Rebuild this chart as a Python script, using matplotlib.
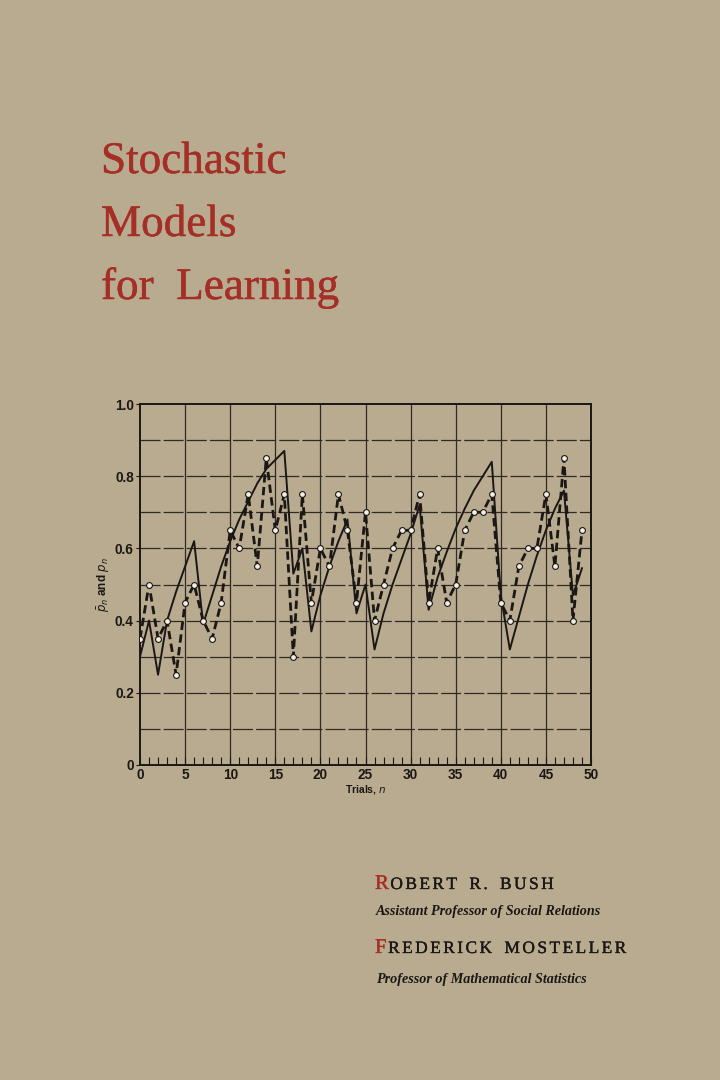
import numpy as np
import matplotlib
matplotlib.use("Agg")
import matplotlib.pyplot as plt
import matplotlib.patheffects as pe
from matplotlib.ticker import FixedLocator

# trial numbers and the two curves
trials = np.arange(50)
p_bar = np.array([0.35, 0.50, 0.35, 0.40, 0.25, 0.45, 0.50, 0.40, 0.35, 0.45,
                  0.65, 0.60, 0.75, 0.55, 0.85, 0.65, 0.75, 0.30, 0.75, 0.45,
                  0.60, 0.55, 0.75, 0.65, 0.45, 0.70, 0.40, 0.50, 0.60, 0.65,
                  0.65, 0.75, 0.45, 0.60, 0.45, 0.50, 0.65, 0.70, 0.70, 0.75,
                  0.45, 0.40, 0.55, 0.60, 0.60, 0.75, 0.55, 0.85, 0.40, 0.65])
p_model = np.array([0.30, 0.40, 0.25, 0.40, 0.48, 0.55, 0.62, 0.39, 0.47, 0.55,
                    0.62, 0.68, 0.73, 0.78, 0.82, 0.845, 0.87, 0.53, 0.60, 0.37,
                    0.47, 0.55, 0.62, 0.68, 0.42, 0.50, 0.32, 0.42, 0.50, 0.57,
                    0.64, 0.72, 0.43, 0.52, 0.59, 0.655, 0.71, 0.76, 0.80, 0.84,
                    0.47, 0.32, 0.41, 0.50, 0.58, 0.65, 0.71, 0.76, 0.47, 0.545])

y_ticks = [0, 0.2, 0.4, 0.6, 0.8, 1.0]
y_tick_labels = ['0', '0.2', '0.4', '0.6', '0.8', '1.0']
x_ticks = [0, 5, 10, 15, 20, 25, 30, 35, 40, 45, 50]

title_lines = ['Stochastic', 'Models', 'for  Learning']
authors = [('R', 'OBERT R. BUSH', 'Assistant Professor of Social Relations'),
           ('F', 'REDERICK MOSTELLER', 'Professor of Mathematical Statistics')]

bg = '#b9ab8f'
red = '#a52f26'
ink = '#1a1714'

W, H = 720, 1080
fig = plt.figure(figsize=(7.2, 10.8), dpi=100, facecolor=bg)
renderer = fig.canvas.get_renderer()

# title
for i, line in enumerate(title_lines):
    fig.text(101 / W, 1 - (173 + i * 63) / H, line, color=red,
             family='Liberation Serif', fontsize=32.5, va='baseline', ha='left',
             path_effects=[pe.withStroke(linewidth=0.35, foreground=red)])

# the chart
ax = fig.add_axes([140 / W, 1 - 765 / H, 451 / W, 361 / H])
ax.set_facecolor(bg)
ax.set_xlim(0, 50)
ax.set_ylim(0, 1.0)

for y in np.arange(0.1, 1.0, 0.1):
    ax.axhline(y, color='#2e2a25', lw=0.9, ls=(0, (16, 2.5)), zorder=1)
for x in range(5, 50, 5):
    ax.axvline(x, color='#2e2a25', lw=0.9, zorder=1)

ax.plot(trials, p_model, color=ink, lw=1.4, zorder=3)
ax.plot(trials, p_bar, color=ink, lw=2.0, ls=(0, (3, 1.6)), zorder=4,
        marker='o', markersize=4.2, markerfacecolor='#f2eee4',
        markeredgecolor=ink, markeredgewidth=0.8)

for s in ax.spines.values():
    s.set_linewidth(1.4)
    s.set_color(ink)

ax.set_yticks(y_ticks)
ax.set_yticklabels(y_tick_labels)
ax.set_xticks(x_ticks)
ax.xaxis.set_minor_locator(FixedLocator([v for v in range(1, 50) if v % 5 != 0]))
ax.tick_params(axis='x', which='minor', direction='in', length=6, width=0.8, color=ink)
ax.tick_params(axis='x', which='major', direction='in', length=6, width=0.8, pad=2, color=ink)
ax.tick_params(axis='y', which='major', direction='out', length=3, width=0.8, pad=1.5, color=ink)
for lab in ax.get_xticklabels() + ax.get_yticklabels():
    lab.set_family('Liberation Sans')
    lab.set_fontweight('bold')
    lab.set_fontsize(9.8)
    lab.set_color(ink)

ax.set_xlabel('Trials, $n$', family='Liberation Sans', fontweight='bold',
              fontsize=7.5, color=ink, labelpad=1)
ax.set_ylabel(r'$\bar{p}_n$ and $p_n$', family='Liberation Sans', fontweight='bold',
              fontsize=8.5, color=ink, labelpad=2)


def tracked(x_px, y_px, text, size, color, track):
    # matplotlib has no letter spacing, so place the letters one by one
    for ch in text:
        if ch == ' ':
            x_px += size * 0.6 + track
            continue
        t = fig.text(x_px / W, 1 - y_px / H, ch, color=color, family='Liberation Serif',
                     fontsize=size, va='baseline', ha='left',
                     path_effects=[pe.withStroke(linewidth=0.25, foreground=color)])
        bb = t.get_window_extent(renderer)
        x_px = bb.x1 + track
    return x_px


# authors in spaced small caps, red initial
base_y = [889, 953]
sub_y = [915, 983]
for (initial, rest, role), by, sy in zip(authors, base_y, sub_y):
    x_next = tracked(375, by, initial, 15, red, 1.5)
    tracked(x_next, by, rest, 12.5, ink, 2.4)
    fig.text(376 / W, 1 - sy / H, role, color=ink, family='Liberation Serif',
             style='italic', fontweight='bold', fontsize=10.2, va='baseline', ha='left')

fig.savefig('out.png', dpi=100, facecolor=bg)
